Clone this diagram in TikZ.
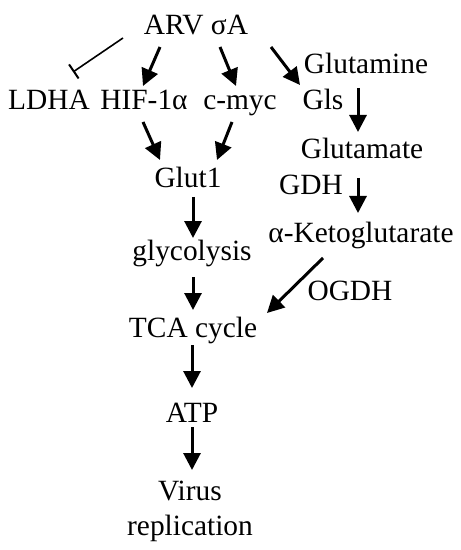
\documentclass[tikz,border=0pt]{standalone}
\usepackage{fontspec}
\setmainfont{Liberation Serif}
\usetikzlibrary{arrows.meta,calc}
\begin{document}
\begin{tikzpicture}[x=1bp,y=-1bp,
  lbl/.style={anchor=base,inner sep=0pt,font=\fontsize{29.5}{35}\selectfont},
  arr/.style={line width=3bp,-{Triangle[length=17bp,width=17bp]}},
  inh/.style={line width=1.6bp,-{Bar[width=17bp,line width=2bp]}}]
\useasboundingbox (0,0) rectangle (461,550);
\node[lbl] (arv) at (196,35) {ARV σA};
\node[lbl] (glutamine) at (366,74) {Glutamine};
\node[lbl] (ldha) at (49,110) {LDHA};
\node[lbl] (hif) at (144,110) {HIF-1α};
\node[lbl] (cmyc) at (240,110) {c-myc};
\node[lbl] (gls) at (323,110) {Gls};
\node[lbl] (glutamate) at (362,159) {Glutamate};
\node[lbl] (glut1) at (188,188) {Glut1};
\node[lbl] (gdh) at (311,195) {GDH};
\node[lbl] (akg) at (361,242) {α-Ketoglutarate};
\node[lbl] (glyco) at (192,260) {glycolysis};
\node[lbl] (ogdh) at (350,300) {OGDH};
\node[lbl] (tca) at (193,337) {TCA cycle};
\node[lbl] (atp) at (192,422) {ATP};
\node[lbl] (virus) at (190,500) {Virus};
\node[lbl] (repl) at (190,535) {replication};

\draw[inh] ($(arv.base)+(-73,3)$) -- ($(ldha.base)+(24,-38)$);
\draw[arr] ($(arv.base)+(-36,12)$) -- ($(hif.base)+(-1,-24)$);
\draw[arr] ($(arv.base)+(24,12)$) -- ($(cmyc.base)+(-4,-24)$);
\draw[arr] ($(arv.base)+(75,12)$) -- ($(glutamine.base)+(-66,11)$);
\draw[arr] ($(glutamine.base)+(-8,14)$) -- ($(glutamate.base)+(-4,-27)$);
\draw[arr] ($(glutamate.base)+(-4,19)$) -- ($(akg.base)+(-3,-29)$);
\draw[arr] ($(hif.base)+(-1,12)$) -- ($(glut1.base)+(-28,-28)$);
\draw[arr] ($(cmyc.base)+(-8,12)$) -- ($(glut1.base)+(29,-28)$);
\draw[arr] ($(glut1.base)+(5,9)$) -- ($(glyco.base)+(1,-22)$);
\draw[arr] ($(glyco.base)+(1,17)$) -- ($(tca.base)+(0,-27)$);
\draw[arr] ($(akg.base)+(-38,16)$) -- ($(tca.base)+(74,-24)$);
\draw[arr] ($(tca.base)+(-1,8)$) -- ($(atp.base)+(0,-34)$);
\draw[arr] ($(atp.base)+(0,5)$) -- ($(virus.base)+(2,-30)$);
\end{tikzpicture}
\end{document}
